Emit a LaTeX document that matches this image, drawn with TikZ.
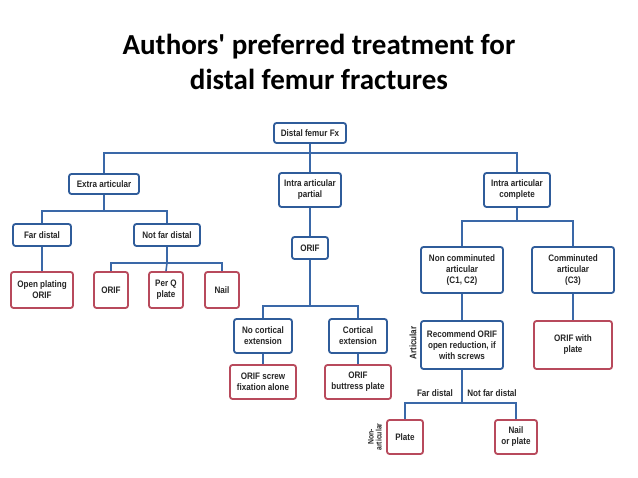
\documentclass[tikz,border=0pt]{standalone}
\usepackage{fontspec}
\setmainfont{Liberation Sans}
\newfontfamily\titlefont{Carlito}
\newfontfamily\boxfont[FakeStretch=0.86]{Liberation Sans}
\definecolor{bl}{HTML}{2F5C9A}
\definecolor{rd}{HTML}{B84A5C}
\definecolor{ln}{HTML}{3A68A8}
\begin{document}
\begin{tikzpicture}[x=1pt,y=-1pt,
  base/.style={draw,line width=1.8pt,rounded corners=2.5pt,fill=white,align=center,inner sep=1pt,
    font=\boxfont\fontsize{9.4}{11}\selectfont\bfseries,text=black!85},
  bbox/.style={base,draw=bl},
  rbox/.style={base,draw=rd},
  conn/.style={draw=ln,line width=1.6pt},
  lab/.style={font=\boxfont\fontsize{9.4}{11}\selectfont\bfseries,text=black!85,inner sep=0.5pt}]
\path[use as bounding box] (0,0) rectangle (638,478);
\node[font=\titlefont\fontsize{29}{35}\selectfont\bfseries,align=center] (title) at (319,62) {Authors' preferred treatment for\\distal femur fractures};
% nodes
\node[bbox,minimum width=72,minimum height=20] (root) at (310,133) {Distal femur Fx};
\node[bbox,minimum width=70,minimum height=20] (extra) at (104,184) {Extra articular};
\node[bbox,minimum width=62,minimum height=34] (partial) at (310,190) {Intra articular\\partial};
\node[bbox,minimum width=66,minimum height=34] (complete) at (517,190) {Intra articular\\complete};
\node[bbox,minimum width=58,minimum height=22] (fard) at (42,235) {Far distal};
\node[bbox,minimum width=66,minimum height=22] (nfard) at (167,235) {Not far distal};
\node[rbox,minimum width=62,minimum height=36] (openp) at (42,290) {Open plating\\ORIF};
\node[rbox,minimum width=34,minimum height=36] (orif1) at (111,290) {ORIF};
\node[rbox,minimum width=34,minimum height=36] (perq) at (166,290) {Per Q\\plate};
\node[rbox,minimum width=34,minimum height=36] (nail) at (222,290) {Nail};
\node[bbox,minimum width=36,minimum height=22] (orif2) at (310,248) {ORIF};
\node[bbox,minimum width=58,minimum height=34] (nocort) at (263,336) {No cortical\\extension};
\node[bbox,minimum width=58,minimum height=34] (cort) at (358,336) {Cortical\\extension};
\node[rbox,minimum width=66,minimum height=34] (screw) at (263,382) {ORIF screw\\fixation alone};
\node[rbox,minimum width=66,minimum height=34] (buttress) at (358,382) {ORIF\\buttress plate};
\node[bbox,minimum width=82,minimum height=46] (noncom) at (462,270) {Non comminuted\\articular\\(C1, C2)};
\node[bbox,minimum width=82,minimum height=46] (com) at (573,270) {Comminuted\\articular\\(C3)};
\node[bbox,minimum width=82,minimum height=48] (recom) at (462,345) {Recommend ORIF\\open reduction, if\\with screws};
\node[rbox,minimum width=78,minimum height=48] (orifp) at (573,345) {ORIF with\\plate};
\node[rbox,minimum width=36,minimum height=34] (plate) at (405,437) {Plate};
\node[rbox,minimum width=42,minimum height=34] (nailp) at (516,437) {Nail\\or plate};
\node[lab,rotate=90] (artl) at (413,343) {Articular};
\node[lab,rotate=90,align=center,font=\boxfont\fontsize{8}{8}\selectfont\bfseries] (nonart) at (375,437) {Non-\\articular};
\node[lab] (fdl) at (435,393) {Far distal};
\node[lab] (nfdl) at (492,393) {Not far distal};
% connectors
\draw[conn] (root.south) -- ++(0,9) coordinate (j0);
\draw[conn] (extra.north) |- (j0) -| (complete.north);
\draw[conn] (j0) -- (partial.north);
\draw[conn] (extra.south) -- ++(0,16) coordinate (j1);
\draw[conn] (fard.north) |- (j1) -| (nfard.north);
\draw[conn] (fard.south) -- (openp.north);
\draw[conn] (nfard.south) -- ++(0,16) coordinate (j2);
\draw[conn] (orif1.north) |- (j2) -| (nail.north);
\draw[conn] (j2) -- (perq.north);
\draw[conn] (partial.south) -- (orif2.north);
\draw[conn] (orif2.south) -- ++(0,46) coordinate (j3);
\draw[conn] (nocort.north) |- (j3) -| (cort.north);
\draw[conn] (nocort.south) -- (screw.north);
\draw[conn] (cort.south) -- (buttress.north);
\draw[conn] (complete.south) -- ++(0,13) coordinate (j4);
\draw[conn] (noncom.north) |- (j4) -| (com.north);
\draw[conn] (noncom.south) -- (recom.north);
\draw[conn] (com.south) -- (orifp.north);
\draw[conn] (recom.south) -- ++(0,33) coordinate (j5);
\draw[conn] (plate.north) |- (j5) -| (nailp.north);
\end{tikzpicture}
\end{document}
